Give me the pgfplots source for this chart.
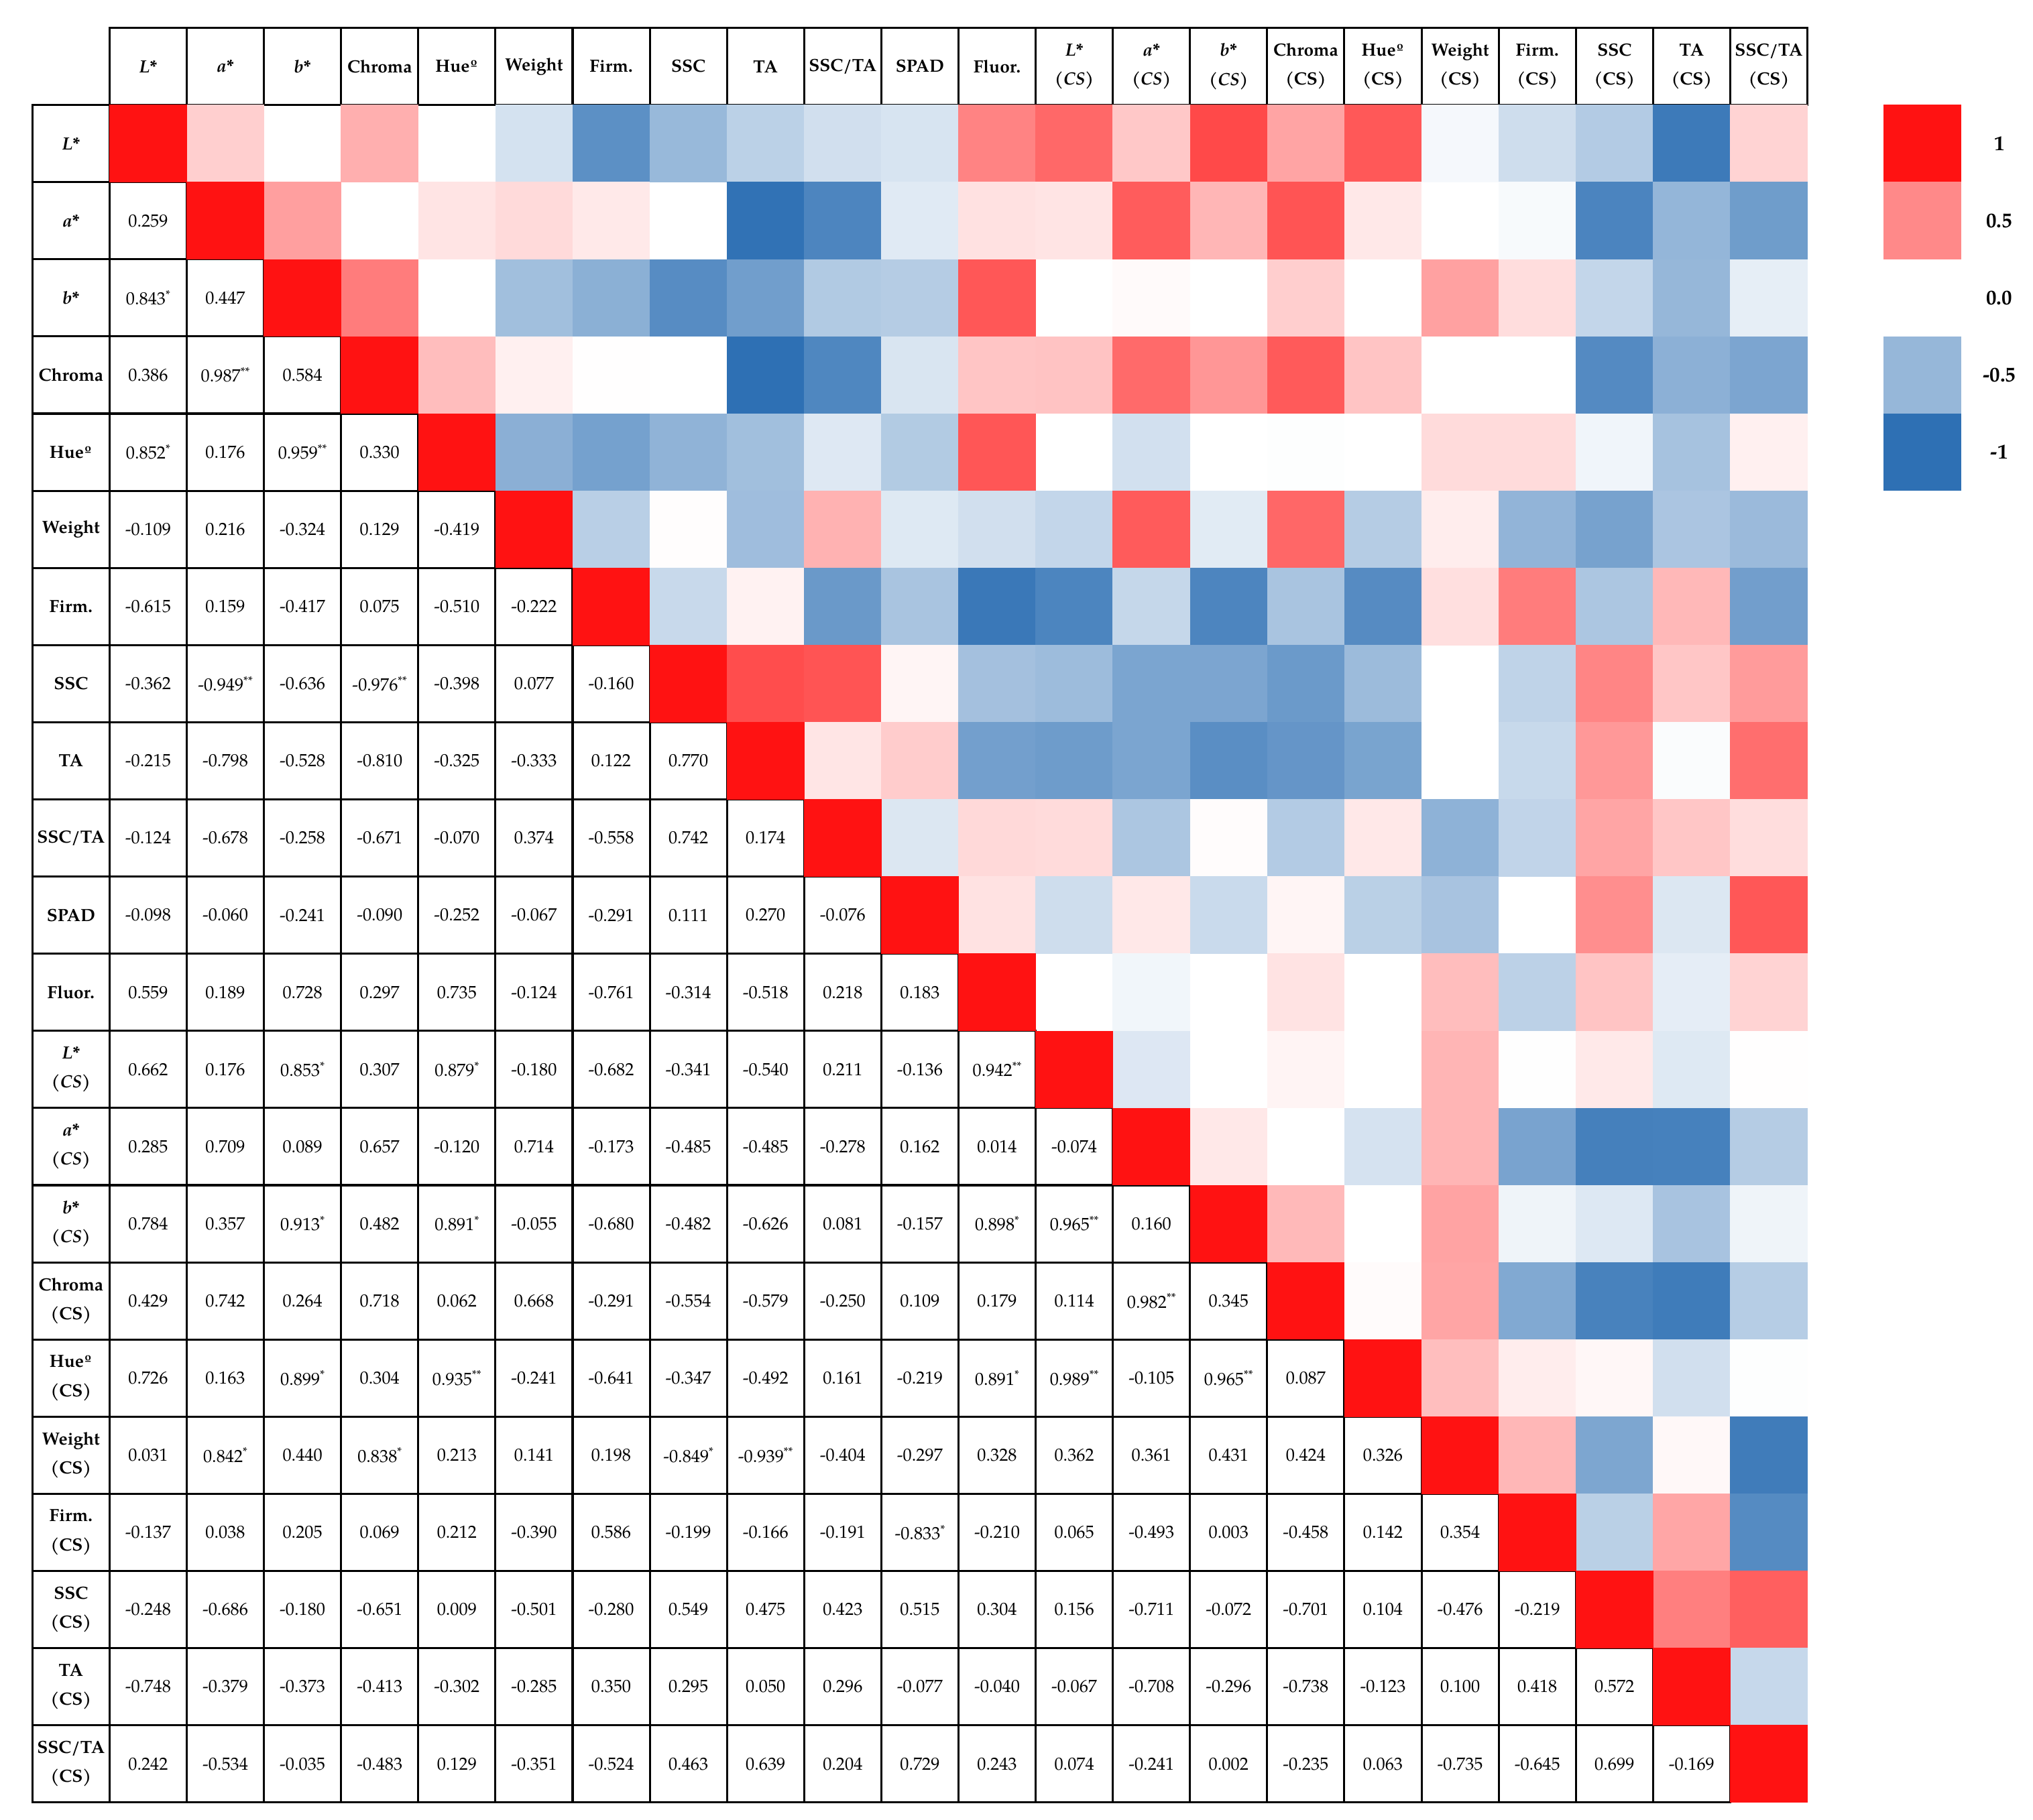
\documentclass[border=0pt]{standalone}
\usepackage{fontspec}
\setmainfont{TeX Gyre Pagella}
\usepackage{pgfplots}
\pgfplotsset{compat=1.18}
\usepackage{pgfplotstable}
\definecolor{cred}{RGB}{255,18,18}
% cell colour scale: lowest shown value (-0.81) dark blue, median (0.071) white, 1 red
\pgfplotsset{colormap={corr}{rgb255(0cm)=(46,112,180); rgb255(0.881cm)=(255,255,255); rgb255(1.81cm)=(255,18,18)}}
% key colour scale
\pgfplotsset{colormap={corrkey}{rgb255=(46,112,180) rgb255=(255,255,255) rgb255=(255,18,18)}}
\newcommand{\onestar}{\raisebox{0.75ex}{\fontsize{4.5}{5}\selectfont*}}
\newcommand{\twostar}{\raisebox{0.75ex}{\fontsize{4.5}{5}\selectfont**}}
\newcommand{\vi}[1]{\textbf{\textit{#1}}}
% non-significant correlations (row i, column j)
\pgfplotstableread{
i j v
1 0 0.259
2 1 0.447
3 0 0.386
3 2 0.584
4 1 0.176
4 3 0.330
5 0 -0.109
5 1 0.216
5 2 -0.324
5 3 0.129
5 4 -0.419
6 0 -0.615
6 1 0.159
6 2 -0.417
6 3 0.075
6 4 -0.510
6 5 -0.222
7 0 -0.362
7 2 -0.636
7 4 -0.398
7 5 0.077
7 6 -0.160
8 0 -0.215
8 1 -0.798
8 2 -0.528
8 3 -0.810
8 4 -0.325
8 5 -0.333
8 6 0.122
8 7 0.770
9 0 -0.124
9 1 -0.678
9 2 -0.258
9 3 -0.671
9 4 -0.070
9 5 0.374
9 6 -0.558
9 7 0.742
9 8 0.174
10 0 -0.098
10 1 -0.060
10 2 -0.241
10 3 -0.090
10 4 -0.252
10 5 -0.067
10 6 -0.291
10 7 0.111
10 8 0.270
10 9 -0.076
11 0 0.559
11 1 0.189
11 2 0.728
11 3 0.297
11 4 0.735
11 5 -0.124
11 6 -0.761
11 7 -0.314
11 8 -0.518
11 9 0.218
11 10 0.183
12 0 0.662
12 1 0.176
12 3 0.307
12 5 -0.180
12 6 -0.682
12 7 -0.341
12 8 -0.540
12 9 0.211
12 10 -0.136
13 0 0.285
13 1 0.709
13 2 0.089
13 3 0.657
13 4 -0.120
13 5 0.714
13 6 -0.173
13 7 -0.485
13 8 -0.485
13 9 -0.278
13 10 0.162
13 11 0.014
13 12 -0.074
14 0 0.784
14 1 0.357
14 3 0.482
14 5 -0.055
14 6 -0.680
14 7 -0.482
14 8 -0.626
14 9 0.081
14 10 -0.157
14 13 0.160
15 0 0.429
15 1 0.742
15 2 0.264
15 3 0.718
15 4 0.062
15 5 0.668
15 6 -0.291
15 7 -0.554
15 8 -0.579
15 9 -0.250
15 10 0.109
15 11 0.179
15 12 0.114
15 14 0.345
16 0 0.726
16 1 0.163
16 3 0.304
16 5 -0.241
16 6 -0.641
16 7 -0.347
16 8 -0.492
16 9 0.161
16 10 -0.219
16 13 -0.105
16 15 0.087
17 0 0.031
17 2 0.440
17 4 0.213
17 5 0.141
17 6 0.198
17 9 -0.404
17 10 -0.297
17 11 0.328
17 12 0.362
17 13 0.361
17 14 0.431
17 15 0.424
17 16 0.326
18 0 -0.137
18 1 0.038
18 2 0.205
18 3 0.069
18 4 0.212
18 5 -0.390
18 6 0.586
18 7 -0.199
18 8 -0.166
18 9 -0.191
18 11 -0.210
18 12 0.065
18 13 -0.493
18 14 0.003
18 15 -0.458
18 16 0.142
18 17 0.354
19 0 -0.248
19 1 -0.686
19 2 -0.180
19 3 -0.651
19 4 0.009
19 5 -0.501
19 6 -0.280
19 7 0.549
19 8 0.475
19 9 0.423
19 10 0.515
19 11 0.304
19 12 0.156
19 13 -0.711
19 14 -0.072
19 15 -0.701
19 16 0.104
19 17 -0.476
19 18 -0.219
20 0 -0.748
20 1 -0.379
20 2 -0.373
20 3 -0.413
20 4 -0.302
20 5 -0.285
20 6 0.350
20 7 0.295
20 8 0.050
20 9 0.296
20 10 -0.077
20 11 -0.040
20 12 -0.067
20 13 -0.708
20 14 -0.296
20 15 -0.738
20 16 -0.123
20 17 0.100
20 18 0.418
20 19 0.572
21 0 0.242
21 1 -0.534
21 2 -0.035
21 3 -0.483
21 4 0.129
21 5 -0.351
21 6 -0.524
21 7 0.463
21 8 0.639
21 9 0.204
21 10 0.729
21 11 0.243
21 12 0.074
21 13 -0.241
21 14 0.002
21 15 -0.235
21 16 0.063
21 17 -0.735
21 18 -0.645
21 19 0.699
21 20 -0.169
}\corr
% significant at one star
\pgfplotstableread{
i j v
2 0 0.843
4 0 0.852
12 2 0.853
12 4 0.879
14 2 0.913
14 4 0.891
14 11 0.898
16 2 0.899
16 11 0.891
17 1 0.842
17 3 0.838
17 7 -0.849
18 10 -0.833
}\sigone
% significant at two stars
\pgfplotstableread{
i j v
3 1 0.987
4 2 0.959
7 1 -0.949
7 3 -0.976
12 11 0.942
14 12 0.965
15 13 0.982
16 4 0.935
16 12 0.989
16 14 0.965
17 8 -0.939
}\sigtwo
\begin{document}
\begin{tikzpicture}[x=1pt,y=1pt]
\useasboundingbox (0,0) rectangle (784,702);
\begin{axis}[
  at={(42.25pt,661.5pt)}, anchor=north west,
  scale only axis, width=654.75pt, height=654.75pt,
  xmin=-0.5, xmax=21.5, ymin=-21.5, ymax=0.5,
  clip=false, axis line style={draw=none}, major tick length=0pt,
  colormap name=corr, point meta min=-0.81, point meta max=1,
  xtick={0,1,...,21}, ytick={-21,-20,...,0},
  xticklabel pos=upper,
  xticklabels={{\vi{L*}},{\vi{a*}},{\vi{b*}},Chroma,Hueº,Weight,Firm.,SSC,TA,SSC/TA,SPAD,Fluor.,
    {\vi{L*}\\\vi{(CS)}},{\vi{a*}\\\vi{(CS)}},{\vi{b*}\\\vi{(CS)}},{Chroma\\(CS)},{Hueº\\(CS)},{Weight\\(CS)},{Firm.\\(CS)},{SSC\\(CS)},{TA\\(CS)},{SSC/TA\\(CS)}},
  yticklabels={{SSC/TA\\(CS)},{TA\\(CS)},{SSC\\(CS)},{Firm.\\(CS)},{Weight\\(CS)},{Hueº\\(CS)},{Chroma\\(CS)},{\vi{b*}\\\vi{(CS)}},{\vi{a*}\\\vi{(CS)}},{\vi{L*}\\\vi{(CS)}},
    Fluor.,SPAD,SSC/TA,TA,SSC,Firm.,Weight,Hueº,Chroma,{\vi{b*}},{\vi{a*}},{\vi{L*}}},
  xticklabel style={anchor=center, yshift=14.88pt, align=center, inner sep=0pt, font=\fontsize{6.8}{11.2}\selectfont\bfseries},
  yticklabel style={anchor=center, xshift=-14.88pt, align=center, inner sep=0pt, font=\fontsize{6.8}{11.2}\selectfont\bfseries},
]
% upper triangle colours (significant correlations are left white)
\addplot[scatter, only marks, mark=square*, mark size=14.8pt,
  scatter/use mapped color={draw=mapped color, fill=mapped color},
  mark options={line width=0.3pt}, point meta=explicit]
  table[x=i, y expr=-\thisrow{j}, meta=v] {\corr};
% diagonal
\addplot[only marks, mark=square*, mark size=14.8pt, mark options={fill=cred, draw=cred, line width=0.3pt}]
  coordinates {(0,0) (1,-1) (2,-2) (3,-3) (4,-4) (5,-5) (6,-6) (7,-7) (8,-8) (9,-9) (10,-10)
   (11,-11) (12,-12) (13,-13) (14,-14) (15,-15) (16,-16) (17,-17) (18,-18) (19,-19) (20,-20) (21,-21)};
% lower triangle numbers
\addplot[draw=none, point meta=explicit symbolic,
  nodes near coords={\pgfplotspointmeta},
  every node near coord/.style={anchor=center, inner sep=0pt, font=\fontsize{6.8}{8}\selectfont}]
  table[x=j, y expr=-\thisrow{i}, meta=v] {\corr};
\addplot[draw=none, point meta=explicit symbolic,
  nodes near coords={\pgfplotspointmeta\onestar},
  every node near coord/.style={anchor=center, inner sep=0pt, font=\fontsize{6.8}{8}\selectfont}]
  table[x=j, y expr=-\thisrow{i}, meta=v] {\sigone};
\addplot[draw=none, point meta=explicit symbolic,
  nodes near coords={\pgfplotspointmeta\twostar},
  every node near coord/.style={anchor=center, inner sep=0pt, font=\fontsize{6.8}{8}\selectfont}]
  table[x=j, y expr=-\thisrow{i}, meta=v] {\sigtwo};
% table rules
\begin{scope}[line width=0.78pt, line cap=rect]
\draw (axis cs:-0.5,1.5) -- (axis cs:21.5,1.5);
\draw (axis cs:-1.5,0.5) -- (axis cs:21.5,0.5);
\draw (axis cs:-1.5,0.5) -- (axis cs:-1.5,-21.5);
\draw (axis cs:-1.5,-21.5) -- (axis cs:20.5,-21.5);
\pgfplotsinvokeforeach{1,...,21}{\draw (axis cs:-1.5,{0.5-#1}) -- (axis cs:{#1-0.5},{0.5-#1});}
\pgfplotsinvokeforeach{0,...,21}{\draw (axis cs:{#1-0.5},{0.5-#1}) -- (axis cs:{#1-0.5},-21.5);}
\pgfplotsinvokeforeach{0,...,22}{\draw (axis cs:{#1-0.5},1.5) -- (axis cs:{#1-0.5},0.5);}
\end{scope}
\end{axis}
% colour key
\begin{axis}[
  at={(726.5pt,661.5pt)}, anchor=north west,
  scale only axis, width=29.76pt, height=148.8pt,
  xmin=-0.5, xmax=0.5, ymin=-4.5, ymax=0.5,
  clip=false, axis line style={draw=none}, major tick length=0pt,
  colormap name=corrkey, point meta min=-1, point meta max=1,
  xtick=\empty, ytick={-4,-3,-2,-1,0},
  yticklabel pos=right,
  yticklabels={-1,-0.5,0.0,0.5,1},
  yticklabel style={anchor=center, xshift=14.75pt, inner sep=0pt, font=\fontsize{8}{9}\selectfont\bfseries},
]
\addplot[scatter, only marks, mark=square*, mark size=14.8pt,
  scatter/use mapped color={draw=mapped color, fill=mapped color},
  mark options={line width=0.3pt}, point meta=explicit]
  coordinates {(0,0) [1] (0,-1) [0.5] (0,-2) [0] (0,-3) [-0.5] (0,-4) [-1]};
\end{axis}
\end{tikzpicture}
\end{document}
